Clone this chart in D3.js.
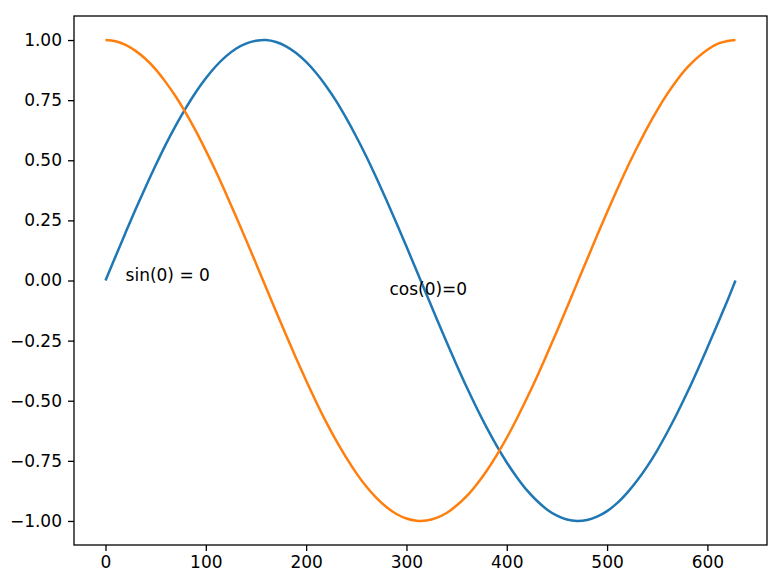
<!DOCTYPE html>
<html><head><meta charset="utf-8">
<script src="https://cdn.jsdelivr.net/npm/d3@7"></script>
<style>body{margin:0;background:#fff}svg{display:block}text{font-family:"DejaVu Sans",sans-serif}</style>
</head><body><svg id="c" width="778" height="587"></svg>
<script>
const xs = [0,10,20,30,40,50,60,70,80,90,100,110,120,130,140,150,160,170,180,190,200,210,220,230,240,250,260,270,280,290,300,310,320,330,340,350,360,370,380,390,400,410,420,430,440,450,460,470,480,490,500,510,520,530,540,550,560,570,580,590,600,610,620,628];
const sinVals = [0.000,0.100,0.199,0.296,0.389,0.479,0.565,0.644,0.717,0.783,0.841,0.891,0.932,0.964,0.985,0.997,1.000,0.992,0.974,0.946,0.909,0.863,0.808,0.746,0.675,0.598,0.516,0.427,0.335,0.239,0.141,0.042,-0.058,-0.158,-0.256,-0.351,-0.443,-0.530,-0.612,-0.688,-0.757,-0.818,-0.872,-0.916,-0.952,-0.978,-0.994,-1.000,-0.996,-0.982,-0.959,-0.926,-0.883,-0.832,-0.773,-0.706,-0.631,-0.551,-0.465,-0.374,-0.279,-0.182,-0.083,0.000];
const cosVals = [1.000,0.995,0.980,0.955,0.921,0.878,0.825,0.765,0.697,0.622,0.540,0.454,0.362,0.267,0.170,0.071,-0.029,-0.129,-0.227,-0.323,-0.416,-0.505,-0.589,-0.666,-0.737,-0.801,-0.857,-0.904,-0.942,-0.971,-0.990,-0.999,-0.998,-0.987,-0.967,-0.936,-0.897,-0.848,-0.791,-0.726,-0.654,-0.575,-0.490,-0.401,-0.307,-0.211,-0.112,-0.012,0.087,0.187,0.284,0.378,0.469,0.554,0.635,0.709,0.776,0.835,0.886,0.927,0.960,0.984,0.996,1.000];
const xTicks = [0,100,200,300,400,500,600];
const yTicks = [1.00,0.75,0.50,0.25,0.00,-0.25,-0.50,-0.75,-1.00];
const annotations = [{x:20,y:0,text:"sin(0) = 0"},{x:283,y:-0.062,text:"cos(0)=0"}];

const svg = d3.select("#c");
const L=74,R=767,T=16,B=545;
const FS = "17px";
const x = d3.scaleLinear().domain([-31.4,659.4]).range([L,R]);
const y = d3.scaleLinear().domain([-1.1,1.1]).range([B,T]);

const line = d3.line().x(d=>x(d[0])).y(d=>y(d[1])).curve(d3.curveCatmullRom.alpha(0.5));
svg.append("path").datum(xs.map((v,i)=>[v,sinVals[i]])).attr("d",line)
  .attr("fill","none").attr("stroke","#1f77b4").attr("stroke-width",2.5);
svg.append("path").datum(xs.map((v,i)=>[v,cosVals[i]])).attr("d",line)
  .attr("fill","none").attr("stroke","#ff7f0e").attr("stroke-width",2.5);

svg.selectAll("text.ann").data(annotations).enter().append("text").attr("class","ann")
  .attr("x",d=>x(d.x)).attr("y",d=>y(d.y)).attr("font-size",FS).attr("fill","#000").text(d=>d.text);

const fmt = v => d3.format(".2f")(v).replace("-","\u2212");
const xa = svg.append("g").attr("transform",`translate(0,${B})`)
  .call(d3.axisBottom(x).tickValues(xTicks).tickSize(6).tickPadding(5).tickFormat(d3.format("d")));
const ya = svg.append("g").attr("transform",`translate(${L},0)`)
  .call(d3.axisLeft(y).tickValues(yTicks).tickSize(6).tickPadding(6).tickFormat(fmt));
[xa,ya].forEach(a=>{
  a.select(".domain").remove();
  a.selectAll("line").attr("stroke","#000").attr("stroke-width",1.3);
  a.selectAll("text").attr("font-size",FS).attr("fill","#000").attr("font-family","DejaVu Sans");
});
svg.append("rect").attr("x",L).attr("y",T).attr("width",R-L).attr("height",B-T)
  .attr("fill","none").attr("stroke","#000").attr("stroke-width",1.3);
</script></body></html>
